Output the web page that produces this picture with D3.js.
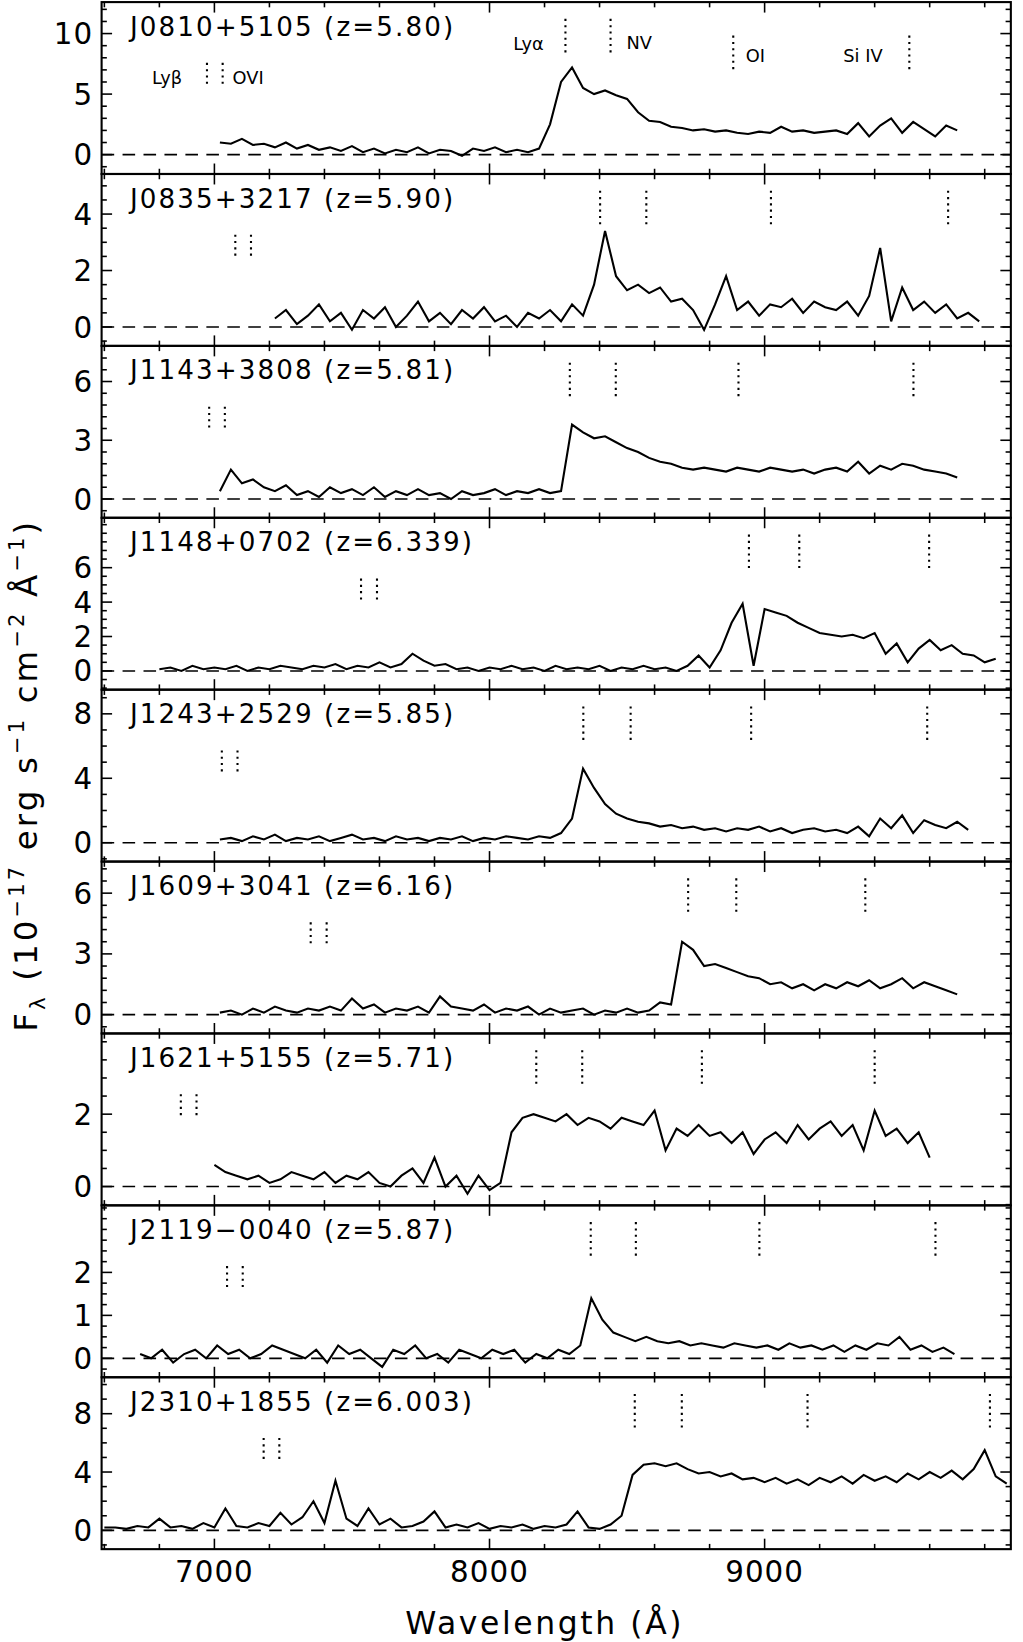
<!DOCTYPE html>
<html><head><meta charset="utf-8">
<script src="https://d3js.org/d3.v7.min.js"></script>
<style>body{margin:0;background:#fff}text{font-family:"DejaVu Sans",sans-serif}</style>
</head><body><svg id="c" width="1023" height="1642"></svg>
<script>
const names=["J0810+5105 (z=5.80)","J0835+3217 (z=5.90)","J1143+3808 (z=5.81)","J1148+0702 (z=6.339)","J1243+2529 (z=5.85)","J1609+3041 (z=6.16)","J1621+5155 (z=5.71)","J2119−0040 (z=5.87)","J2310+1855 (z=6.003)"];
const starts=[7020,7220,7020,6800,7020,7020,7000,6730,6600];
const step=40;
const f0=[1.0,0.9,1.3,0.8,0.9,0.6,1.0,0.5,0.8,0.4,0.6,0.3,0.7,0.2,0.5,0.1,0.4,0.2,0.6,0.1,0.4,0.3,-0.1,0.5,0.3,0.6,0.2,0.4,0.2,0.5,2.5,6.0,7.2,5.5,5.0,5.3,4.9,4.6,3.5,2.8,2.7,2.3,2.2,2.0,2.1,1.9,2.0,1.8,1.7,1.9,1.8,2.3,1.9,2.0,1.8,1.9,2.0,1.7,2.6,1.5,2.4,3.0,1.8,2.7,2.1,1.5,2.4,2.0];
const f1=[0.3,0.6,0.1,0.4,0.8,0.2,0.5,-0.1,0.6,0.3,0.7,0.0,0.4,0.9,0.2,0.5,0.1,0.6,0.3,0.7,0.2,0.4,0.0,0.5,0.3,0.6,0.2,0.8,0.4,1.5,3.4,1.8,1.3,1.5,1.2,1.4,0.9,1.0,0.6,-0.1,0.8,1.8,0.6,0.9,0.4,0.8,0.7,1.0,0.5,0.9,0.7,0.6,0.9,0.4,1.1,2.8,0.2,1.4,0.6,0.9,0.5,0.8,0.3,0.5,0.2];
const f2=[0.4,1.5,0.8,1.0,0.6,0.4,0.7,0.2,0.4,0.1,0.6,0.3,0.5,0.2,0.6,0.1,0.4,0.2,0.5,0.2,0.3,0.0,0.4,0.2,0.3,0.5,0.2,0.4,0.3,0.5,0.3,0.4,3.8,3.4,3.1,3.2,2.9,2.6,2.4,2.1,1.9,1.8,1.6,1.5,1.6,1.5,1.4,1.6,1.5,1.4,1.6,1.5,1.4,1.5,1.3,1.5,1.6,1.4,1.9,1.3,1.7,1.5,1.8,1.7,1.5,1.4,1.3,1.1];
const f3=[0.1,0.2,0.0,0.3,0.1,0.2,0.1,0.3,0.0,0.2,0.1,0.3,0.2,0.1,0.3,0.2,0.4,0.1,0.3,0.2,0.5,0.2,0.4,1.0,0.6,0.3,0.4,0.1,0.2,0.0,0.2,0.1,0.3,0.1,0.2,0.0,0.3,0.1,0.2,0.1,0.3,0.0,0.2,0.1,0.3,0.1,0.2,0.0,0.3,0.9,0.2,1.2,2.8,3.9,0.3,3.6,3.4,3.2,2.8,2.5,2.2,2.1,2.0,2.1,1.9,2.2,1.0,1.6,0.5,1.3,1.8,1.2,1.5,1.0,0.9,0.5,0.7];
const f4=[0.2,0.3,0.1,0.4,0.2,0.5,0.1,0.3,0.2,0.4,0.1,0.3,0.5,0.2,0.3,0.1,0.4,0.2,0.3,0.1,0.3,0.2,0.4,0.1,0.3,0.2,0.4,0.3,0.2,0.4,0.3,0.6,1.5,4.6,3.4,2.4,1.8,1.5,1.3,1.2,1.0,1.1,0.9,1.0,0.8,0.9,0.7,0.9,0.8,1.0,0.7,0.9,0.6,0.8,0.9,0.7,0.8,0.6,1.0,0.4,1.5,0.9,1.7,0.6,1.4,1.1,0.9,1.3,0.8];
const f5=[0.1,0.2,0.0,0.3,0.1,0.4,0.2,0.1,0.3,0.2,0.4,0.2,0.8,0.3,0.5,0.1,0.3,0.2,0.4,0.1,0.9,0.4,0.3,0.2,0.5,0.1,0.3,0.2,0.4,0.0,0.3,0.1,0.2,0.3,0.0,0.2,0.1,0.3,0.1,0.2,0.6,0.5,3.6,3.2,2.4,2.5,2.3,2.1,1.9,1.8,1.5,1.6,1.3,1.5,1.2,1.5,1.3,1.6,1.4,1.7,1.3,1.5,1.8,1.3,1.6,1.4,1.2,1.0];
const f6=[0.6,0.4,0.3,0.2,0.3,0.1,0.2,0.4,0.3,0.2,0.4,0.1,0.3,0.2,0.4,0.1,0.0,0.3,0.5,0.1,0.8,0.0,0.3,-0.2,0.3,-0.1,0.1,1.5,1.9,2.0,1.9,1.8,2.0,1.7,1.9,1.8,1.6,1.9,1.8,1.7,2.1,1.0,1.6,1.4,1.7,1.4,1.5,1.2,1.5,0.9,1.3,1.5,1.2,1.7,1.3,1.6,1.8,1.4,1.7,1.0,2.1,1.4,1.6,1.2,1.5,0.8];
const f7=[0.1,0.0,0.2,-0.1,0.1,0.2,0.0,0.3,0.1,0.2,0.0,0.1,0.3,0.2,0.1,0.0,0.2,-0.1,0.3,0.1,0.2,0.0,-0.2,0.2,0.1,0.3,0.0,0.1,-0.1,0.2,0.1,0.0,0.2,0.1,0.2,-0.1,0.1,0.0,0.2,0.1,0.3,1.4,0.9,0.6,0.5,0.4,0.5,0.4,0.35,0.4,0.3,0.35,0.3,0.25,0.35,0.3,0.25,0.3,0.2,0.35,0.25,0.3,0.2,0.3,0.15,0.3,0.2,0.35,0.3,0.5,0.2,0.3,0.15,0.25,0.1];
const f8=[0.2,0.2,0.1,0.3,0.2,0.8,0.2,0.3,0.1,0.5,0.2,1.5,0.3,0.2,0.5,0.3,1.2,0.4,0.9,2.0,0.5,3.4,0.8,0.3,1.5,0.4,0.8,0.2,0.3,0.6,1.3,0.2,0.4,0.2,0.5,0.1,0.3,0.2,0.4,0.1,0.3,0.2,0.4,1.3,0.2,0.1,0.4,1.0,3.8,4.5,4.6,4.4,4.6,4.2,3.9,4.0,3.7,3.9,3.5,3.6,3.3,3.6,3.2,3.5,3.1,3.6,3.3,3.7,3.2,3.8,3.4,3.7,3.3,3.9,3.5,4.0,3.6,4.1,3.5,4.2,5.5,3.7,3.2];
const fluxes=[f0,f1,f2,f3,f4,f5,f6,f7,f8];
const yDomains=[[-1.6,12.6],[-0.67,5.42],[-0.96,7.82],[-1.09,8.9],[-1.17,9.5],[-0.93,7.56],[-0.52,4.23],[-0.44,3.56],[-1.29,10.5]];
const yTicks=[[0,5,10],[0,2,4],[0,3,6],[0,2,4,6],[0,4,8],[0,3,6],[0,2],[0,1,2],[0,4,8]];
const yMinor=[1,0.5,0.6,0.5,1,0.6,0.5,0.25,1];
const pairs=[[6973,7030],[7076,7133],[6981,7038],[7533,7591],[7027,7084],[7350,7408],[6878,6935],[7046,7103],[7179,7236]];
const singles=[[8276,8440,8886,9526],[8402,8570,9023,9667],[8292,8459,8905,9541],[8943,9126,9598],[8341,8513,8951,9591],[8722,8897,9366],[8170,8337,8772,9400],[8368,8532,8981,9621],[8528,8699,9156,9819]];
const xTicks=[7000,8000,9000];

const svg=d3.select("#c").append("g").attr("transform","scale(1.0475)");
const L=97,R=965,top0=2,ph=164.1;
const x=d3.scaleLinear().domain([6590,9895]).range([L,R]);
const minorX=d3.range(6600,9900,200);
names.forEach((nm,i)=>{
  const t=top0+i*ph,b=t+ph;
  const y=d3.scaleLinear().domain(yDomains[i]).range([b,t]);
  const g=svg.append("g");
  g.append("rect").attr("x",L).attr("y",t).attr("width",R-L).attr("height",ph).attr("fill","none").attr("stroke","#000").attr("stroke-width",2);
  minorX.forEach(w=>{const big=w%1000===0, len=big?10:5;
    g.append("line").attr("x1",x(w)).attr("x2",x(w)).attr("y1",b).attr("y2",b-len).attr("stroke","#000").attr("stroke-width",1.5);
    g.append("line").attr("x1",x(w)).attr("x2",x(w)).attr("y1",t).attr("y2",t+len).attr("stroke","#000").attr("stroke-width",1.5);});
  const mt=d3.range(Math.ceil(yDomains[i][0]/yMinor[i])*yMinor[i],yDomains[i][1],yMinor[i]);
  mt.forEach(v=>{const big=yTicks[i].some(k=>Math.abs(k-v)<1e-6),len=big?10:5;
    g.append("line").attr("x1",L).attr("x2",L+len).attr("y1",y(v)).attr("y2",y(v)).attr("stroke","#000").attr("stroke-width",1.5);
    g.append("line").attr("x1",R).attr("x2",R-len).attr("y1",y(v)).attr("y2",y(v)).attr("stroke","#000").attr("stroke-width",1.5);});
  yTicks[i].forEach(v=>g.append("text").attr("x",L-8).attr("y",y(v)).attr("dy","0.36em").attr("text-anchor","end").attr("font-size",28).attr("letter-spacing",1).text(v));
  g.append("line").attr("x1",L).attr("x2",R).attr("y1",y(0)).attr("y2",y(0)).attr("stroke","#000").attr("stroke-width",1.5).attr("stroke-dasharray","12,8");
  const data=fluxes[i].map((f,k)=>[starts[i]+k*step,f]);
  g.append("path").datum(data).attr("d",d3.line().x(d=>x(d[0])).y(d=>y(Math.max(d[1],yDomains[i][0]))))
   .attr("fill","none").attr("stroke","#000").attr("stroke-width",2);
  g.append("text").attr("x",L+27).attr("y",t+32).attr("font-size",25).attr("letter-spacing",2).text(nm);
  const dot=(w,y1,y2)=>g.append("line").attr("x1",x(w)).attr("x2",x(w)).attr("y1",y1).attr("y2",y2).attr("stroke","#000").attr("stroke-width",2).attr("stroke-dasharray","2,4");
  pairs[i].forEach(w=>dot(w,t+58,t+82));
  singles[i].forEach((w,k)=>{const off=(i===0&&k>=2)?16:0;dot(w,t+16+off,t+50+off);});
});
const lab=(txt,px,py)=>svg.append("text").attr("x",px).attr("y",py).attr("font-size",17).text(txt);
lab("Lyβ",145,80);lab("OVI",222,80);lab("Lyα",490,48);lab("NV",598,47);lab("OI",712,59);lab("Si IV",805,59);
xTicks.forEach(w=>svg.append("text").attr("x",x(w)).attr("y",1510).attr("text-anchor","middle").attr("font-size",28).attr("letter-spacing",1).text(w));
svg.append("text").attr("x",520).attr("y",1560).attr("text-anchor","middle").attr("font-size",30).attr("letter-spacing",2.5).text("Wavelength (Å)");
svg.append("text").attr("transform","translate(35,740) rotate(-90)").attr("text-anchor","middle").attr("font-size",31).attr("letter-spacing",3)
 .html('F<tspan font-size="20" dy="8">λ</tspan><tspan dy="-8"> (10</tspan><tspan font-size="20" dy="-12">−17</tspan><tspan dy="12"> erg s</tspan><tspan font-size="20" dy="-12">−1</tspan><tspan dy="12"> cm</tspan><tspan font-size="20" dy="-12">−2</tspan><tspan dy="12"> Å</tspan><tspan font-size="20" dy="-12">−1</tspan><tspan dy="12">)</tspan>');
</script></body></html>
